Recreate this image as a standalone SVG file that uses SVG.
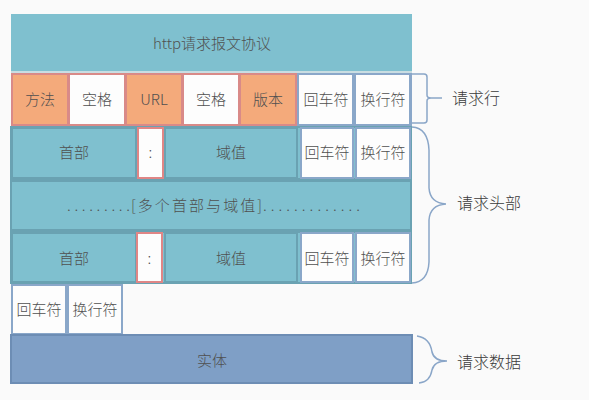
<svg xmlns="http://www.w3.org/2000/svg" width="589" height="400" viewBox="0 0 589 400">
<style>
.t{font-family:"Noto Sans CJK SC","Noto Sans",sans-serif;font-size:15px;fill:#505050;text-anchor:middle;font-weight:300}
.lab{font-family:"Noto Sans CJK SC","Noto Sans",sans-serif;font-size:16px;fill:#3a3a3a;font-weight:300}
.teal{fill:#7fc0cf;stroke:#6aa2b2;stroke-width:2}
.org{fill:#f4aa7b;stroke:#d98a88;stroke-width:2}
.wr{fill:#fdfdfd;stroke:#d98a88;stroke-width:2}
.wb{fill:#fdfdfd;stroke:#8aa7c9;stroke-width:2}
.col{fill:#fdfdfd;stroke:#e08686;stroke-width:2}
.ent{fill:#7f9fc6;stroke:#6d8db4;stroke-width:2}
.br{fill:none;stroke:#8aa6c8;stroke-width:1.5}
</style>
<rect width="589" height="400" fill="#fafafa"/>
<g id="title">
<rect x="11" y="14" width="401" height="57" fill="#7fc0cf"/>
<rect x="11" y="71" width="401" height="2" fill="#c9dde2"/>
<text class="t" x="212" y="49">http请求报文协议</text>
</g>
<g id="request-line">
<rect x="11" y="73" width="401" height="53" fill="#8aa7c9"/>
<rect class="org" x="12" y="74" width="56" height="51"/>
<text class="t" x="40" y="105">方法</text>
<rect class="wr" x="69" y="74" width="56" height="51"/>
<text class="t" x="97" y="105">空格</text>
<rect class="org" x="126" y="74" width="56" height="51"/>
<text class="t" x="154" y="105">URL</text>
<rect class="wr" x="183" y="74" width="56" height="51"/>
<text class="t" x="211" y="105">空格</text>
<rect class="org" x="240" y="74" width="56" height="51"/>
<text class="t" x="268" y="105">版本</text>
<rect class="wb" x="298" y="74" width="55" height="51"/>
<text class="t" x="326" y="105">回车符</text>
<rect class="wb" x="355" y="74" width="55" height="51"/>
<text class="t" x="383" y="105">换行符</text>
</g>
<g id="header-1">
<rect class="teal" x="11" y="127" width="400" height="52"/>
<rect class="teal" x="12" y="128" width="124" height="50"/>
<text class="t" x="74" y="158">首部</text>
<rect class="col" x="138" y="128" width="25" height="50"/>
<text class="t" x="150.5" y="158">:</text>
<rect class="teal" x="165" y="128" width="132" height="50"/>
<text class="t" x="231" y="158">域值</text>
<rect class="wb" x="301" y="128" width="52" height="50"/>
<text class="t" x="327" y="158">回车符</text>
<rect class="wb" x="356" y="128" width="54" height="50"/>
<text class="t" x="383" y="158">换行符</text>
</g>
<g id="header-more">
<rect class="teal" x="11" y="181" width="400" height="49"/>
<text class="t" x="98.5" y="211" textLength="63" lengthAdjust="spacing">.........</text>
<text class="t" x="196.5" y="211" font-size="16" textLength="131" lengthAdjust="spacing">[多个首部与域值]</text>
<text class="t" x="311.5" y="211" textLength="97" lengthAdjust="spacing">.............</text>
</g>
<g id="header-n">
<rect class="teal" x="11" y="232" width="400" height="51"/>
<rect class="teal" x="12" y="233" width="124" height="49"/>
<text class="t" x="74" y="264">首部</text>
<rect class="col" x="137" y="233" width="25" height="49"/>
<text class="t" x="149.5" y="264">:</text>
<rect class="teal" x="165" y="233" width="132" height="49"/>
<text class="t" x="231" y="264">域值</text>
<rect class="wb" x="301" y="233" width="52" height="49"/>
<text class="t" x="327" y="264">回车符</text>
<rect class="wb" x="356" y="233" width="54" height="49"/>
<text class="t" x="383" y="264">换行符</text>
</g>
<g id="blank-line">
<rect class="wb" x="12" y="285" width="54" height="49"/>
<text class="t" x="39" y="315">回车符</text>
<rect class="wb" x="68" y="285" width="54" height="49"/>
<text class="t" x="95" y="315">换行符</text>
</g>
<g id="entity">
<rect class="ent" x="11" y="335" width="401" height="48"/>
<text class="t" x="212" y="366">实体</text>
</g>
<g id="connectors">
<path class="br" d="M411,74 H424 Q427,74 427,77 V95 Q427,98 431,98 H442 M431,98 Q427,98 427,101 V120 Q427,123 424,123 H411"/>
<path class="br" d="M412,127 Q428,128 429,150 V188 Q430,203 446,204 Q430,205 429,220 V262 Q428,282 412,283"/>
<path class="br" d="M417,336 Q430,338 432,352 Q434,361 447,361 Q434,361 432,370 Q430,382 419,383"/>
</g>
<g id="labels">
<text class="lab" x="452" y="104">请求行</text>
<text class="lab" x="457" y="209">请求头部</text>
<text class="lab" x="457" y="368">请求数据</text>
</g>
</svg>
